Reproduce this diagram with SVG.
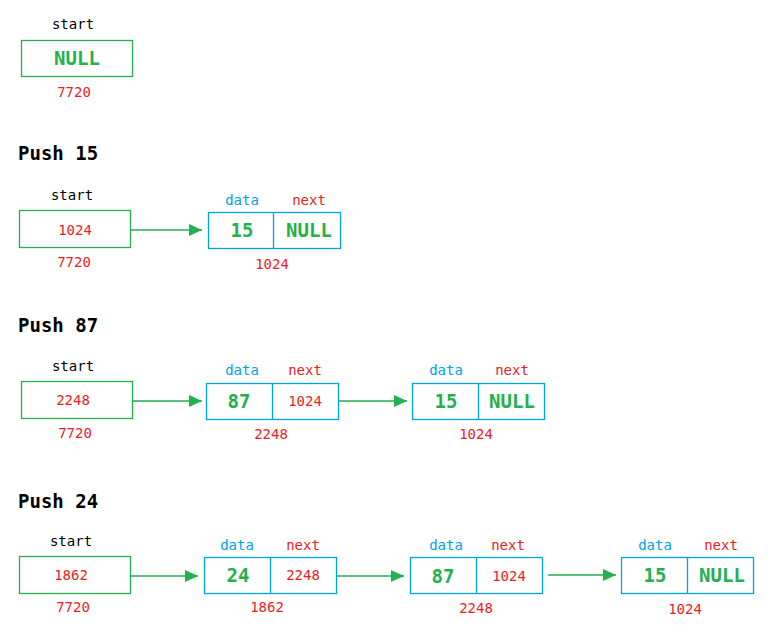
<svg xmlns="http://www.w3.org/2000/svg" width="774" height="631" viewBox="0 0 774 631">
<style>
text{font-family:"DejaVu Sans Mono","Liberation Mono",monospace;text-anchor:middle;dominant-baseline:central}
.lbl{font-size:14px;fill:#000}
.addr{font-size:14px;fill:#ed1c24}
.val{font-size:19px;font-weight:bold;fill:#22b14c}
.ptr{font-size:14px;fill:#ed1c24}
.dl{font-size:14px;fill:#00a2e8}
.nl{font-size:14px;fill:#ed1c24}
.hd{font-size:19px;font-weight:bold;fill:#000;text-anchor:start}
.sbox{fill:#fff;stroke:#22b14c;stroke-width:1.3}
.nbox{fill:#fff;stroke:#00a2e8;stroke-width:1.3}
.con{stroke:#22b14c;stroke-width:1.3;fill:none;marker-end:url(#ah)}
</style>
<defs>
<marker id="ah" markerUnits="userSpaceOnUse" markerWidth="13" markerHeight="12" refX="13" refY="6" orient="auto">
<path d="M0,0 L13,6 L0,12 Z" fill="#22b14c"/>
</marker>
</defs>
<rect width="774" height="631" fill="#fff"/>

<text class="hd" x="18" y="153">Push 15</text>
<text class="hd" x="18" y="325">Push 87</text>
<text class="hd" x="18" y="501">Push 24</text>

<g id="connectors">
<line class="con" x1="131" y1="230" x2="202" y2="230"/>
<line class="con" x1="133" y1="401" x2="202" y2="401"/>
<line class="con" x1="339" y1="401" x2="407" y2="401"/>
<line class="con" x1="131" y1="576" x2="198" y2="576"/>
<line class="con" x1="337" y1="576" x2="404" y2="576"/>
<line class="con" x1="548" y1="575" x2="616" y2="575"/>
</g>

<g id="start0">
<text class="lbl" x="73" y="24">start</text>
<rect class="sbox" x="21.5" y="40.5" width="111" height="36"/>
<text class="val" x="77" y="58">NULL</text>
<text class="addr" x="74" y="92">7720</text>
</g>

<g id="start1">
<text class="lbl" x="72" y="195">start</text>
<rect class="sbox" x="19.5" y="210.5" width="111" height="37"/>
<text class="ptr" x="75" y="230">1024</text>
<text class="addr" x="74" y="262">7720</text>
</g>
<g id="node1_15">
<text class="dl" x="242" y="200">data</text>
<text class="nl" x="309" y="200">next</text>
<rect class="nbox" x="208.5" y="212.5" width="132" height="36"/>
<line class="nbox" x1="273.5" y1="212.5" x2="273.5" y2="248.5"/>
<text class="val" x="242" y="230">15</text>
<text class="val" x="309" y="230">NULL</text>
<text class="addr" x="272" y="264">1024</text>
</g>

<g id="start2">
<text class="lbl" x="73" y="366">start</text>
<rect class="sbox" x="21.5" y="381.5" width="111" height="37"/>
<text class="ptr" x="73" y="400">2248</text>
<text class="addr" x="75" y="433">7720</text>
</g>
<g id="node2_87">
<text class="dl" x="242" y="370">data</text>
<text class="nl" x="305" y="370">next</text>
<rect class="nbox" x="206.5" y="383.5" width="132" height="36"/>
<line class="nbox" x1="272.5" y1="383.5" x2="272.5" y2="419.5"/>
<text class="val" x="239" y="401">87</text>
<text class="ptr" x="305" y="401">1024</text>
<text class="addr" x="271" y="434">2248</text>
</g>
<g id="node2_15">
<text class="dl" x="446" y="370">data</text>
<text class="nl" x="512" y="370">next</text>
<rect class="nbox" x="412.5" y="383.5" width="132" height="36"/>
<line class="nbox" x1="478.5" y1="383.5" x2="478.5" y2="419.5"/>
<text class="val" x="446" y="401">15</text>
<text class="val" x="512" y="401">NULL</text>
<text class="addr" x="476" y="434">1024</text>
</g>

<g id="start3">
<text class="lbl" x="71" y="541">start</text>
<rect class="sbox" x="19.5" y="556.5" width="111" height="37"/>
<text class="ptr" x="71" y="575">1862</text>
<text class="addr" x="73" y="607">7720</text>
</g>
<g id="node3_24">
<text class="dl" x="237" y="545">data</text>
<text class="nl" x="303" y="545">next</text>
<rect class="nbox" x="204.5" y="557.5" width="132" height="36"/>
<line class="nbox" x1="270.5" y1="557.5" x2="270.5" y2="593.5"/>
<text class="val" x="238" y="575">24</text>
<text class="ptr" x="303" y="575">2248</text>
<text class="addr" x="267" y="607">1862</text>
</g>
<g id="node3_87">
<text class="dl" x="446" y="545">data</text>
<text class="nl" x="508" y="545">next</text>
<rect class="nbox" x="410.5" y="557.5" width="132" height="36"/>
<line class="nbox" x1="476.5" y1="557.5" x2="476.5" y2="593.5"/>
<text class="val" x="443" y="576">87</text>
<text class="ptr" x="509" y="576">1024</text>
<text class="addr" x="476" y="608">2248</text>
</g>
<g id="node3_15">
<text class="dl" x="655" y="545">data</text>
<text class="nl" x="721" y="545">next</text>
<rect class="nbox" x="621.5" y="557.5" width="132" height="36"/>
<line class="nbox" x1="687.5" y1="557.5" x2="687.5" y2="593.5"/>
<text class="val" x="655" y="575">15</text>
<text class="val" x="722" y="575">NULL</text>
<text class="addr" x="685" y="609">1024</text>
</g>
</svg>
